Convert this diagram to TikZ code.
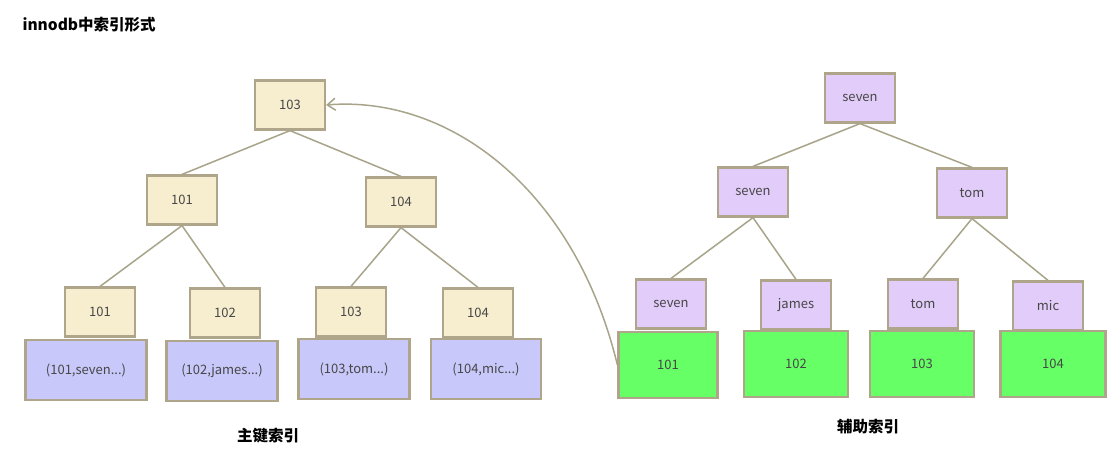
\documentclass[tikz,border=0pt]{standalone}
\usepackage{fontspec}
\setmainfont{Noto Sans CJK SC}
\usetikzlibrary{arrows.meta}
\definecolor{bordc}{HTML}{AFA58A}
\definecolor{edgec}{HTML}{A8A48A}
\definecolor{beige}{HTML}{F7EDCF}
\definecolor{datac}{HTML}{C8C8FA}
\definecolor{lilac}{HTML}{E2CCF9}
\definecolor{greenc}{HTML}{66FF66}
\tikzset{
 box/.style={draw=bordc,line width=2.2pt,font=\fontsize{13}{15}\selectfont,text=black!72,inner sep=0pt},
 key/.style={box,fill=beige,minimum width=70pt,minimum height=49pt},
 data/.style={box,fill=datac,minimum width=111pt,minimum height=60pt},
 sk/.style={box,fill=lilac,minimum width=70pt,minimum height=49pt},
 pk/.style={box,fill=greenc,minimum width=104pt,minimum height=66pt},
 edge/.style={draw=edgec,line width=1.5pt},
 ttl/.style={font=\bfseries\fontsize{15.5}{18}\selectfont}
}
\begin{document}
\begin{tikzpicture}[x=1pt,y=-1pt]
\useasboundingbox[fill=white] (0,0) rectangle (1113,465);
\node[ttl,anchor=west] (title) at (19,25) {innodb中索引形式};
% left tree
\node[key] (r) at (290,105) {103};
\node[key] (a) at (182,200) {101};
\node[key] (b) at (401,202) {104};
\node[key] (l1) at (100,312) {101};
\node[key] (l2) at (225,313) {102};
\node[key] (l3) at (351,312) {103};
\node[key] (l4) at (478,313) {104};
\node[data,minimum width=121pt] (d1) at (86,370) {(101,seven...)};
\node[data] (d2) at (222,371) {(102,james...)};
\node[data] (d3) at (354,369) {(103,tom...)};
\node[data,minimum width=110pt] (d4) at (486,369) {(104,mic...)};
\draw[edge] (r.south) -- (a.north);
\draw[edge] (r.south) -- (b.north);
\draw[edge] (a.south) -- (l1.north);
\draw[edge] (a.south) -- (l2.north);
\draw[edge] (b.south) -- (l3.north);
\draw[edge] (b.south) -- (l4.north);
% right tree
\node[sk] (sr) at (860,98) {seven};
\node[sk] (sa) at (753,192) {seven};
\node[sk] (sb) at (972,193) {tom};
\node[sk] (s1) at (671,304) {seven};
\node[sk] (s2) at (796,305) {james};
\node[sk] (s3) at (923,304) {tom};
\node[sk] (s4) at (1048,306) {mic};
\node[pk,minimum width=99pt] (g1) at (668,365) {101};
\node[pk] (g2) at (796,364) {102};
\node[pk] (g3) at (922,364) {103};
\node[pk,minimum width=105pt] (g4) at (1053,364) {104};
\draw[edge] (sr.south) -- (sa.north);
\draw[edge] (sr.south) -- (sb.north);
\draw[edge] (sa.south) -- (s1.north);
\draw[edge] (sa.south) -- (s2.north);
\draw[edge] (sb.south) -- (s3.north);
\draw[edge] (sb.south) -- (s4.north);
% link
\draw[edge,-{Straight Barb[length=8pt,width=12pt]}] (g1.west) .. controls (575,190) and (450,95) .. (r.east);
\node[ttl] (t1) at (268,436) {主键索引};
\node[ttl] (t2) at (868,427) {辅助索引};
\end{tikzpicture}
\end{document}
